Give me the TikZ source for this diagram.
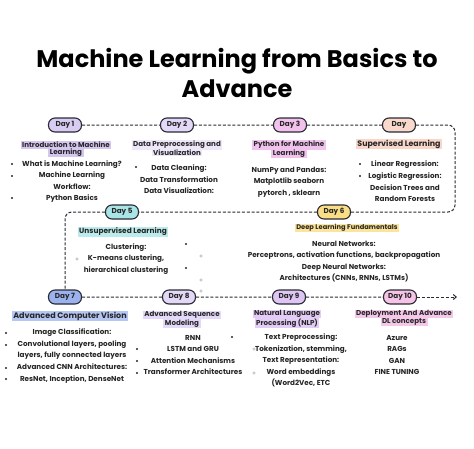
\documentclass[tikz,border=0pt]{standalone}
\usepackage{fontspec}
\setmainfont{Poppins}
\usetikzlibrary{positioning,calc,arrows.meta}

\definecolor{ink}{HTML}{2A2A35}
\definecolor{txt}{HTML}{262626}
\definecolor{pillA}{HTML}{D9CCF2}
\definecolor{pillB}{HTML}{E3D8F7}
\definecolor{pillC}{HTML}{F2C2EC}
\definecolor{pillD}{HTML}{F8D9CC}
\definecolor{pillE}{HTML}{A9E4E6}
\definecolor{pillF}{HTML}{F9DE86}
\definecolor{pillG}{HTML}{9CB2EE}
\definecolor{pillH}{HTML}{E4D8F7}
\definecolor{pillI}{HTML}{DEC5F3}
\definecolor{pillJ}{HTML}{F4C3E6}
\definecolor{hlA}{HTML}{D5C6F0}
\definecolor{hlB}{HTML}{EEE7FA}
\definecolor{hlC}{HTML}{F2C2EE}
\definecolor{hlD}{HTML}{F9D6CA}
\definecolor{hlE}{HTML}{BCEBEB}
\definecolor{hlF}{HTML}{FBE49C}
\definecolor{hlG}{HTML}{B5C6F3}
\definecolor{hlH}{HTML}{E4D9F8}
\definecolor{hlI}{HTML}{E3CCF5}
\definecolor{hlJ}{HTML}{F5C8EA}

\begin{document}
\begin{tikzpicture}[x=1pt,y=-1pt,
  daypill/.style={draw=ink,line width=1.1pt,rounded corners=6.5pt,minimum width=33pt,
    minimum height=14pt,inner sep=0pt,text=txt,font=\fontsize{7.2}{8}\selectfont\bfseries},
  topic/.style={inner xsep=1.5pt,inner ysep=0.8pt,text=txt,font=\fontsize{7.1}{8}\selectfont\bfseries},
  body/.style={align=center,text=txt,font=\fontsize{7.2}{11.6}\selectfont\bfseries},
  flow/.style={ink,line width=1pt,dash pattern=on 3pt off 1.8pt,rounded corners=7pt},
  dot/.style={fill=txt},
  ring/.style={draw=gray!55,line width=0.5pt}]
	\fill[white] (0,0) rectangle (474,448);
	\useasboundingbox (0,0) rectangle (474,448);

	% title
	\node[font=\fontsize{24}{27}\selectfont\bfseries,text=black] (t1) at (237,61) {Machine Learning from Basics to};
	\node[font=\fontsize{24}{27}\selectfont\bfseries,text=black,below=-1pt of t1] (t2) {Advance};

	% days
	\node[daypill,fill=pillA] (d1) at (65,125) {Day 1};
	\node[daypill,fill=pillB] (d2) at (177,125) {Day 2};
	\node[daypill,fill=pillC] (d3) at (290,125) {Day 3};
	\node[daypill,fill=pillD] (d4) at (399,125) {Day};
	\node[daypill,fill=pillE] (d5) at (122,212) {Day 5};
	\node[daypill,fill=pillF] (d6) at (334,212) {Day 6};
	\node[daypill,fill=pillG] (d7) at (65,297) {Day 7};
	\node[daypill,fill=pillH] (d8) at (179,297) {Day 8};
	\node[daypill,fill=pillI] (d9) at (289,297) {Day 9};
	\node[daypill,fill=pillJ] (d10) at (400,297) {Day 10};

	\coordinate (rt) at (455,125);
	\coordinate (rb) at (455,212);
	\coordinate (lt) at (65,212);
	\coordinate (fin) at (457,297);

	\draw[flow] (d1) -- (d2) -- (d3) -- (d4) -- (rt) -- (rb) -- (d6) -- (d5) -- (lt) -- (d7) -- (d8) -- (d9) -- (d10);
	\draw[flow,-{Straight Barb[length=3pt,width=5pt]}] (d10) -- (fin);

	% headings
	\node[topic,fill=hlA] (h1a) at (66,145) {Introduction to Machine};
	\node[topic,fill=hlA,below=-1pt of h1a] (h1b) {Learning};
	\node[topic,fill=hlB] (h2a) at (177,145) {Data Preprocessing and};
	\node[topic,fill=hlB,below=-1pt of h2a] (h2b) {Visualization};
	\node[topic,fill=hlC] (h3a) at (289,145) {Python for Machine};
	\node[topic,fill=hlC,below=-1pt of h3a] (h3b) {Learning};
	\node[topic,fill=hlD,font=\fontsize{7.9}{9}\selectfont\bfseries] (h4) at (399,144) {Supervised Learning};
	\node[topic,fill=hlE,font=\fontsize{7.4}{9}\selectfont\bfseries] (h5) at (123,232) {Unsupervised Learning};
	\node[topic,fill=hlF,font=\fontsize{6.7}{8}\selectfont\bfseries] (h6) at (347,228) {Deep Learning Fundamentals};
	\node[topic,fill=hlG,font=\fontsize{8}{9}\selectfont\bfseries] (h7) at (70,316) {Advanced Computer Vision};
	\node[topic,fill=hlH] (h8a) at (182,315) {Advanced Sequence};
	\node[topic,fill=hlH,below=-1pt of h8a] (h8b) {Modeling};
	\node[topic,fill=hlI] (h9a) at (287,314) {Natural Language};
	\node[topic,fill=hlI,below=-1pt of h9a] (h9b) {Processing (NLP)};
	\node[topic,fill=hlJ] (h10a) at (404,314) {Deployment And Advance};
	\node[topic,fill=hlJ,below=-1pt of h10a] (h10b) {DL concepts};

	% contents
	\node[body] (b1) at (72,181.5) {What is Machine Learning?\\Machine Learning\\Workflow:\\Python Basics};
	\node[body] (b2) at (179,179.5) {Data Cleaning:\\Data Transformation\\Data Visualization:};
	\node[body] (b3) at (289,182) {NumPy and Pandas:\\Matplotlib seaborn\\pytorch , sklearn};
	\node[body] (b4) at (405,181.5) {Linear Regression:\\Logistic Regression:\\Decision Trees and\\Random Forests};
	\node[body] (b5) at (126,259) {Clustering:\\K-means clustering,\\hierarchical clustering};
	\node[body] (b6) at (344,261.5) {Neural Networks:\\Perceptrons, activation functions, backpropagation\\Deep Neural Networks:\\Architectures (CNNs, RNNs, LSTMs)};
	\node[body] (b7) at (72,356) {Image Classification:\\Convolutional layers, pooling\\layers, fully connected layers\\Advanced CNN Architectures:\\ResNet, Inception, DenseNet};
	\node[body] (b8) at (193,355) {RNN\\LSTM and GRU\\Attention Mechanisms\\Transformer Architectures};
	\node[body] (b9) at (301,360.5) {Text Preprocessing:\\Tokenization, stemming,\\Text Representation:\\Word embeddings\\(Word2Vec, ETC};
	\node[body] (b10) at (397,355) {Azure\\RAGs\\GAN\\FINE TUNING};

	% bullets
	\foreach \p in {(12,164),(12,176),(12,198),(136,167),(360,164),(360,176),
	  (186,244),(186,268),(6,333),(6,345),(6,368),(6,379),
	  (137,349),(137,361),(137,373),(232,337)}
	  \fill[dot] \p circle (1.1pt);
	\foreach \p in {(77,259),(201,256),(201,280),(201,291),(254,349),(254,373)}
	  \draw[ring] \p circle (1.3pt);
\end{tikzpicture}
\end{document}
